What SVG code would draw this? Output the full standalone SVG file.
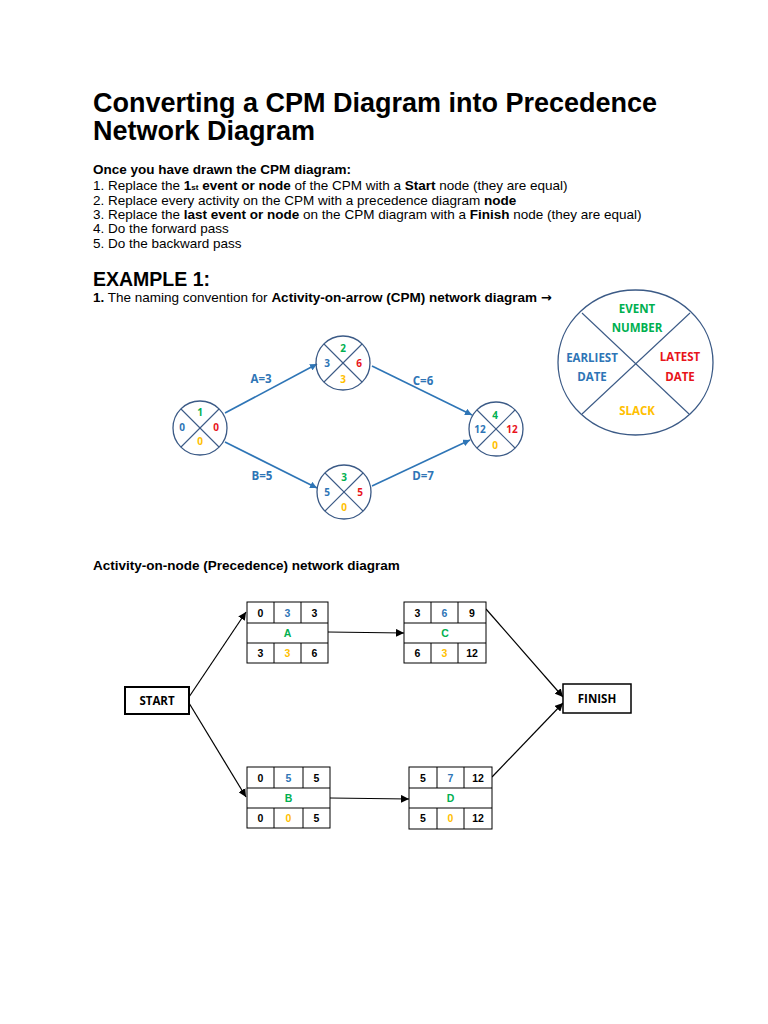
<svg xmlns="http://www.w3.org/2000/svg" width="768" height="1024" viewBox="0 0 768 1024">
<defs>
<style>
.t{font-family:"Liberation Sans",Arial,sans-serif;fill:#000}
.title{font-size:27px;font-weight:bold}
.body{font-size:13.5px}
.b{font-weight:bold}
.cn{fill:none;stroke:#3B5A86;stroke-width:1.3}
.cx{stroke:#3B5A86;stroke-width:1.1}
.num{font-family:"Open Sans","Liberation Sans",sans-serif;font-size:10px;font-weight:bold;text-anchor:middle}
.leg{font-family:"Open Sans","Liberation Sans",sans-serif;font-size:11.5px;font-weight:bold;text-anchor:middle}
.ba{stroke:#2E75B6;stroke-width:1.6;fill:none}
.lbl{font-family:"Open Sans","Liberation Sans",sans-serif;font-size:11.5px;font-weight:bold;fill:#2E75B6;text-anchor:middle}
.box{fill:#fff;stroke:#000;stroke-width:1}
.bx{font-family:"Liberation Sans",Arial,sans-serif;font-size:10.5px;font-weight:bold;text-anchor:middle;fill:#000}
.ka{stroke:#000;stroke-width:1.2;fill:none}
.se{font-family:"Open Sans","Liberation Sans",sans-serif;font-size:11.5px;font-weight:bold;text-anchor:middle;fill:#000}
.g{fill:#00B050}.bl{fill:#2E75B6}.r{fill:#E8141B}.y{fill:#FFC000}
</style>
<marker id="ab" viewBox="0 0 10 10" refX="10" refY="5" markerWidth="7" markerHeight="7" markerUnits="userSpaceOnUse" orient="auto"><path d="M0,0 L10,5 L0,10 z" fill="#2E75B6"/></marker>
<marker id="ak" viewBox="0 0 10 10" refX="10" refY="5" markerWidth="8" markerHeight="8" markerUnits="userSpaceOnUse" orient="auto"><path d="M0,0 L10,5 L0,10 z" fill="#000"/></marker>
</defs>
<rect width="768" height="1024" fill="#fff"/>

<g id="header">
<text class="t title" x="93" y="112">Converting a CPM Diagram into Precedence</text>
<text class="t title" x="93" y="140">Network Diagram</text>
<text class="t body b" x="93" y="174">Once you have drawn the CPM diagram:</text>
<text class="t body" x="93" y="190">1. Replace the <tspan class="b">1</tspan><tspan class="b" font-size="8">st</tspan><tspan class="b"> event or node</tspan> of the CPM with a <tspan class="b">Start</tspan> node (they are equal)</text>
<text class="t body" x="93" y="205">2. Replace every activity on the CPM with a precedence diagram <tspan class="b">node</tspan></text>
<text class="t body" x="93" y="219">3. Replace the <tspan class="b">last event or node</tspan> on the CPM diagram with a <tspan class="b">Finish</tspan> node (they are equal)</text>
<text class="t body" x="93" y="233">4. Do the forward pass</text>
<text class="t body" x="93" y="248">5. Do the backward pass</text>
<text class="t b" x="93" y="286" font-size="19.5">EXAMPLE 1:</text>
<text class="t body" x="93" y="302"><tspan class="b">1.</tspan> The naming convention for <tspan class="b">Activity-on-arrow (CPM) network diagram</tspan> <tspan font-family="DejaVu Sans,sans-serif" font-weight="bold" font-size="13">→</tspan></text>
<text class="t body b" x="93" y="570">Activity-on-node (Precedence) network diagram</text>
</g>

<g id="legend">
<ellipse class="cn" cx="635.5" cy="362.5" rx="77.5" ry="72.5"/>
<line class="cx" x1="582" y1="313" x2="689" y2="414"/>
<line class="cx" x1="690" y1="313" x2="582" y2="414"/>
<text class="leg g" x="637" y="313">EVENT</text>
<text class="leg g" x="637" y="332">NUMBER</text>
<text class="leg bl" x="592" y="362">EARLIEST</text>
<text class="leg bl" x="592" y="381">DATE</text>
<text class="leg r" x="680" y="361">LATEST</text>
<text class="leg r" x="680" y="381">DATE</text>
<text class="leg y" x="637" y="415">SLACK</text>
</g>

<g id="cpm-connectors">
<line class="ba" x1="225" y1="413" x2="317" y2="364" marker-end="url(#ab)"/>
<line class="ba" x1="225" y1="442" x2="317" y2="488" marker-end="url(#ab)"/>
<line class="ba" x1="372" y1="366" x2="472" y2="415" marker-end="url(#ab)"/>
<line class="ba" x1="372" y1="486" x2="470" y2="440" marker-end="url(#ab)"/>
<text class="lbl" x="261" y="383">A=3</text>
<text class="lbl" x="262" y="480">B=5</text>
<text class="lbl" x="423" y="385">C=6</text>
<text class="lbl" x="423" y="480">D=7</text>
</g>

<g id="event1">
<circle class="cn" cx="200" cy="428" r="27"/>
<line class="cx" x1="181" y1="409" x2="219" y2="447"/>
<line class="cx" x1="219" y1="409" x2="181" y2="447"/>
<text class="num g" x="200" y="416">1</text>
<text class="num bl" x="182" y="431">0</text>
<text class="num r" x="216" y="431">0</text>
<text class="num y" x="200" y="445">0</text>
</g>
<g id="event2">
<circle class="cn" cx="343" cy="363" r="27"/>
<line class="cx" x1="324" y1="344" x2="362" y2="382"/>
<line class="cx" x1="362" y1="344" x2="324" y2="382"/>
<text class="num g" x="343" y="352">2</text>
<text class="num bl" x="327" y="367">3</text>
<text class="num r" x="359" y="367">6</text>
<text class="num y" x="343" y="383">3</text>
</g>
<g id="event3">
<circle class="cn" cx="344" cy="492" r="27"/>
<line class="cx" x1="325" y1="473" x2="363" y2="511"/>
<line class="cx" x1="363" y1="473" x2="325" y2="511"/>
<text class="num g" x="344" y="481">3</text>
<text class="num bl" x="327" y="496">5</text>
<text class="num r" x="360" y="496">5</text>
<text class="num y" x="344" y="511">0</text>
</g>
<g id="event4">
<circle class="cn" cx="496" cy="429" r="27"/>
<line class="cx" x1="477" y1="410" x2="515" y2="448"/>
<line class="cx" x1="515" y1="410" x2="477" y2="448"/>
<text class="num g" x="495" y="419">4</text>
<text class="num bl" x="480" y="433">12</text>
<text class="num r" x="512" y="433">12</text>
<text class="num y" x="495" y="449">0</text>
</g>

<g id="precedence-connectors">
<line class="ka" x1="189" y1="697" x2="246" y2="612" marker-end="url(#ak)"/>
<line class="ka" x1="189" y1="703" x2="246" y2="797" marker-end="url(#ak)"/>
<line class="ka" x1="328" y1="632" x2="404" y2="633" marker-end="url(#ak)"/>
<line class="ka" x1="330" y1="798" x2="409" y2="799" marker-end="url(#ak)"/>
<line class="ka" x1="486" y1="609" x2="563" y2="697" marker-end="url(#ak)"/>
<line class="ka" x1="492" y1="777" x2="563" y2="703" marker-end="url(#ak)"/>
</g>

<g id="start">
<rect x="125" y="687" width="64" height="27" fill="#fff" stroke="#000" stroke-width="2"/>
<text class="se" x="157" y="705">START</text>
</g>
<g id="finish">
<rect x="563" y="684" width="68" height="29" fill="#fff" stroke="#000" stroke-width="1.5"/>
<text class="se" x="597" y="703">FINISH</text>
</g>

<g id="nodeA">
<rect class="box" x="247" y="602" width="81" height="61"/>
<line class="box" x1="247" y1="623" x2="328" y2="623"/>
<line class="box" x1="247" y1="643" x2="328" y2="643"/>
<line class="box" x1="274" y1="602" x2="274" y2="623"/>
<line class="box" x1="301" y1="602" x2="301" y2="623"/>
<line class="box" x1="274" y1="643" x2="274" y2="663"/>
<line class="box" x1="301" y1="643" x2="301" y2="663"/>
<text class="bx" x="260.5" y="616.5">0</text>
<text class="bx bl" x="287.5" y="616.5">3</text>
<text class="bx" x="314.5" y="616.5">3</text>
<text class="bx g" x="287.5" y="637">A</text>
<text class="bx" x="260.5" y="657">3</text>
<text class="bx y" x="287.5" y="657">3</text>
<text class="bx" x="314.5" y="657">6</text>
</g>
<g id="nodeC">
<rect class="box" x="404" y="602" width="82" height="61"/>
<line class="box" x1="404" y1="623" x2="486" y2="623"/>
<line class="box" x1="404" y1="643" x2="486" y2="643"/>
<line class="box" x1="431" y1="602" x2="431" y2="623"/>
<line class="box" x1="458" y1="602" x2="458" y2="623"/>
<line class="box" x1="431" y1="643" x2="431" y2="663"/>
<line class="box" x1="458" y1="643" x2="458" y2="663"/>
<text class="bx" x="417.5" y="616.5">3</text>
<text class="bx bl" x="444.5" y="616.5">6</text>
<text class="bx" x="472" y="616.5">9</text>
<text class="bx g" x="445" y="637">C</text>
<text class="bx" x="417.5" y="657">6</text>
<text class="bx y" x="444.5" y="657">3</text>
<text class="bx" x="472" y="657">12</text>
</g>
<g id="nodeB">
<rect class="box" x="247" y="767" width="83" height="61"/>
<line class="box" x1="247" y1="788" x2="330" y2="788"/>
<line class="box" x1="247" y1="808" x2="330" y2="808"/>
<line class="box" x1="274" y1="767" x2="274" y2="788"/>
<line class="box" x1="303" y1="767" x2="303" y2="788"/>
<line class="box" x1="274" y1="808" x2="274" y2="828"/>
<line class="box" x1="303" y1="808" x2="303" y2="828"/>
<text class="bx" x="260.5" y="781.5">0</text>
<text class="bx bl" x="288.5" y="781.5">5</text>
<text class="bx" x="316.5" y="781.5">5</text>
<text class="bx g" x="288.5" y="802">B</text>
<text class="bx" x="260.5" y="822">0</text>
<text class="bx y" x="288.5" y="822">0</text>
<text class="bx" x="316.5" y="822">5</text>
</g>
<g id="nodeD">
<rect class="box" x="409" y="767" width="83" height="62"/>
<line class="box" x1="409" y1="788" x2="492" y2="788"/>
<line class="box" x1="409" y1="808" x2="492" y2="808"/>
<line class="box" x1="437" y1="767" x2="437" y2="788"/>
<line class="box" x1="464" y1="767" x2="464" y2="788"/>
<line class="box" x1="437" y1="808" x2="437" y2="829"/>
<line class="box" x1="464" y1="808" x2="464" y2="829"/>
<text class="bx" x="423" y="781.5">5</text>
<text class="bx bl" x="450.5" y="781.5">7</text>
<text class="bx" x="478" y="781.5">12</text>
<text class="bx g" x="450.5" y="802">D</text>
<text class="bx" x="423" y="822">5</text>
<text class="bx y" x="450.5" y="822">0</text>
<text class="bx" x="478" y="822">12</text>
</g>
</svg>
